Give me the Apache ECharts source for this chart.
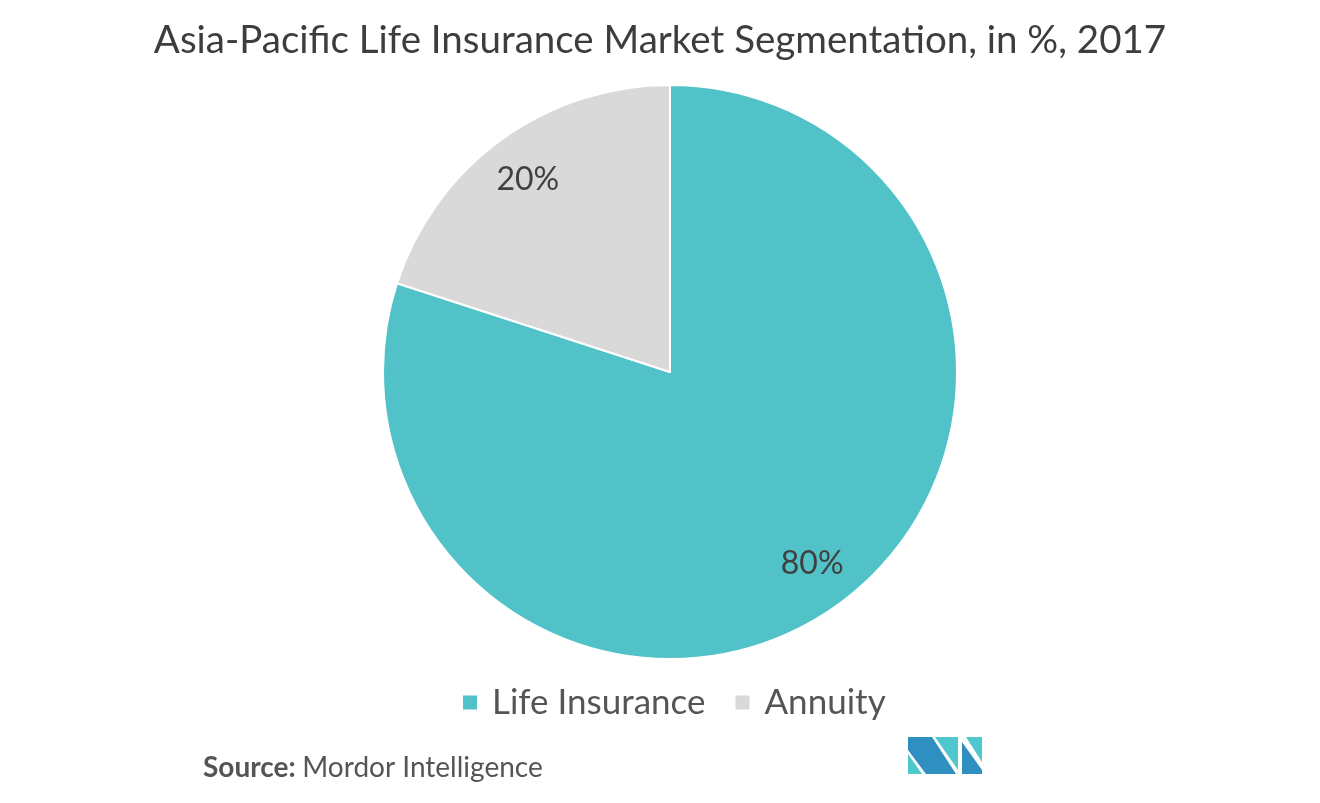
<!DOCTYPE html>
<html>
<head>
<meta charset="utf-8">
<script src="https://cdn.jsdelivr.net/npm/echarts@6/dist/echarts.min.js"></script>
<style>
html,body{margin:0;padding:0;background:#fff;}
#chart{width:1320px;height:803px;}
</style>
</head>
<body>
<div id="chart"></div>
<script>
const titleText = 'Asia-Pacific Life Insurance Market Segmentation, in %, 2017';
const categories = ['Life Insurance', 'Annuity'];
const values = [80, 20];
const colors = ['#51c3c8', '#d9d9d9'];
const sourceLabel = 'Source:';
const sourceName = 'Mordor Intelligence';

const chart = echarts.init(document.getElementById('chart'));
const FONT = 'Lato, "Open Sans", sans-serif';

const pieData = categories.map((c, i) => ({ name: c, value: values[i], itemStyle: { color: colors[i] } }));
const labelData = categories.map((c, i) => ({ name: c, value: values[i] }));

chart.setOption({
  backgroundColor: '#ffffff',
  animation: false,
  title: {
    text: titleText,
    left: 'center',
    top: 16,
    textStyle: { fontFamily: FONT, fontWeight: 'normal', fontSize: 38.5, color: '#3d3d3d' }
  },
  legend: {
    data: categories,
    bottom: 78,
    left: 456,
    icon: 'rect',
    itemWidth: 16,
    itemHeight: 16,
    itemGap: 28,
    textStyle: { fontFamily: FONT, fontSize: 35, color: '#555555', padding: [0, 0, 0, 9] }
  },
  series: [
    {
      type: 'pie',
      center: [670, 372],
      radius: [0, 287],
      startAngle: 90,
      clockwise: true,
      silent: true,
      itemStyle: { borderColor: '#ffffff', borderWidth: 2 },
      label: { show: false },
      labelLine: { show: false },
      data: pieData
    },
    {
      type: 'pie',
      center: [670, 372],
      radius: [216, 256],
      startAngle: 90.5,
      clockwise: true,
      silent: true,
      legendHoverLink: false,
      itemStyle: { color: 'rgba(0,0,0,0)' },
      label: {
        show: true,
        position: 'inside',
        formatter: '{c}%',
        fontFamily: FONT,
        fontSize: 32,
        color: '#404040'
      },
      labelLine: { show: false },
      data: labelData
    }
  ],
  graphic: [
    {
      type: 'text',
      left: 203,
      top: 754,
      style: {
        rich: {
          b: { fontFamily: FONT, fontSize: 28, fontWeight: 'bold', fill: '#555555' },
          n: { fontFamily: FONT, fontSize: 28, fill: '#555555' }
        },
        text: '{b|' + sourceLabel + '}  {n|' + sourceName + '}'
      }
    },
    { type: 'polygon', shape: { points: [[908,754],[908,774],[922,774]] }, style: { fill: '#4fc8cd' } },
    { type: 'polygon', shape: { points: [[908,737],[932,737],[956,774],[926,774],[908,750]] }, style: { fill: '#2e8fc0' } },
    { type: 'polygon', shape: { points: [[935,737],[958,737],[958,770]] }, style: { fill: '#4fc8cd' } },
    { type: 'polygon', shape: { points: [[962,737],[982,737],[982,762],[966,737]] }, style: { fill: '#4fc8cd' } },
    { type: 'polygon', shape: { points: [[962,742],[982,770],[982,774],[962,774]] }, style: { fill: '#2e8fc0' } }
  ]
});
</script>
</body>
</html>
